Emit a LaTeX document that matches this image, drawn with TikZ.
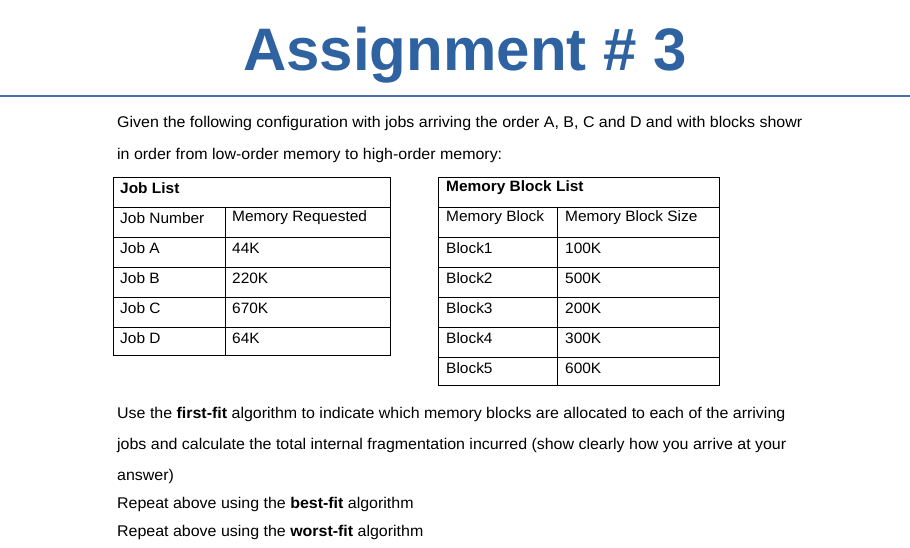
\documentclass[tikz,border=0pt]{standalone}
\usepackage{fontspec}
\setmainfont{Liberation Sans}
\newfontfamily\bodyf[FakeStretch=1.03]{Liberation Sans}
\definecolor{titleblue}{HTML}{2F62A0}
\definecolor{rule}{HTML}{4A6FA8}
\begin{document}
\begin{tikzpicture}[x=1pt,y=-1pt,
  body/.style={anchor=west,inner sep=0pt,font=\bodyf\fontsize{15.5}{18}\selectfont},
  cell/.style={anchor=west,inner sep=0pt,font=\bodyf\fontsize{15}{18}\selectfont},
  grid/.style={draw=black,line width=0.8pt}]
\useasboundingbox (0,0) rectangle (910,547);
\node[font=\bfseries\fontsize{60}{64}\selectfont,text=titleblue] (title) at (465,55) {Assignment \# 3};
\draw[rule,line width=1.5pt] (0,96) -- (910,96);
\node[body] (l1) at (117,123) {Given the following configuration with jobs arriving the order A, B, C and D and with blocks showr};
\node[body] (l2) at (117,155) {in order from low-order memory to high-order memory:};
% left table
\draw[grid] (113,177) rectangle (390,355);
\foreach \y in {207,237,267,297,327} \draw[grid] (113,\y) -- (390,\y);
\draw[grid] (225,207) -- (225,355);
\node[cell,font=\bodyf\bfseries\fontsize{15}{18}\selectfont] (jl) at (120,188) {Job List};
\node[cell] (jn) at (120,218) {Job Number};
\node[cell] (mr) at (232,218) {Memory Requested};
\foreach \n/\a/\b [count=\i] in {ja/Job A/44K,jb/Job B/220K,jc/Job C/670K,jd/Job D/64K}{
  \node[cell] (\n1) at (120,218+30*\i) {\a};
  \node[cell] (\n2) at (232,218+30*\i) {\b};}
% right table
\draw[grid] (438,177) rectangle (719,385);
\foreach \y in {207,237,267,297,327,357} \draw[grid] (438,\y) -- (719,\y);
\draw[grid] (557,207) -- (557,385);
\node[cell,font=\bodyf\bfseries\fontsize{15}{18}\selectfont] (mbl) at (446,188) {Memory Block List};
\node[cell] (mb) at (446,218) {Memory Block};
\node[cell] (mbs) at (565,218) {Memory Block Size};
\foreach \n/\a/\b [count=\i] in {b1/Block1/100K,b2/Block2/500K,b3/Block3/200K,b4/Block4/300K,b5/Block5/600K}{
  \node[cell] (\n1) at (446,218+30*\i) {\a};
  \node[cell] (\n2) at (565,218+30*\i) {\b};}
\node[body] (p1) at (117,414) {Use the \textbf{first-fit} algorithm to indicate which memory blocks are allocated to each of the arriving};
\node[body] (p2) at (117,445) {jobs and calculate the total internal fragmentation incurred (show clearly how you arrive at your};
\node[body] (p3) at (117,476) {answer)};
\node[body] (p4) at (117,504) {Repeat above using the \textbf{best-fit} algorithm};
\node[body] (p5) at (117,532) {Repeat above using the \textbf{worst-fit} algorithm};
\end{tikzpicture}
\end{document}
